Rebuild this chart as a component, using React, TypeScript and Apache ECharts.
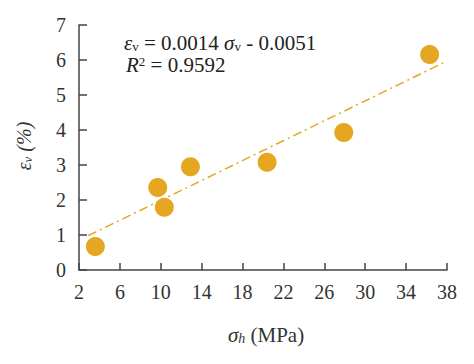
import React, { useEffect, useRef } from "react";
import * as echarts from "echarts";

const xTicks = [2, 6, 10, 14, 18, 22, 26, 30, 34, 38];
const sigmaH = [3.6, 9.7, 10.35, 12.9, 20.4, 27.9, 36.3];
const epsV = [0.67, 2.36, 1.79, 2.95, 3.08, 3.93, 6.16];
const trendX = [2.9, 38];
const trendY = [0.98, 5.97];

const FONT = "Times New Roman, Liberation Serif, serif";
const GOLD = "#E5A722";

export default function App() {
  const ref = useRef<HTMLDivElement>(null);
  useEffect(() => {
    const chart = echarts.init(ref.current!, null, { renderer: "svg" });
    const axisText = { color: "#333", fontFamily: FONT, fontSize: 20 };
    const rich = (fill: string, size: number, sub: number, italicN: boolean) => ({
      n: { fontFamily: FONT, fontSize: size, fill, fontStyle: italicN ? "italic" : "normal", lineHeight: 20, verticalAlign: "bottom" },
      i: { fontFamily: FONT, fontSize: size, fontStyle: "italic", fill, lineHeight: 20, verticalAlign: "bottom" },
      s: { fontFamily: FONT, fontSize: sub, fill, lineHeight: 20, verticalAlign: "bottom" },
      si: { fontFamily: FONT, fontSize: sub, fontStyle: "italic", fill, lineHeight: 20, verticalAlign: "bottom" },
      p: { fontFamily: FONT, fontSize: sub, fill, lineHeight: 20, verticalAlign: "top" },
    });
    chart.setOption({
      animation: false,
      backgroundColor: "#fff",
      textStyle: { fontFamily: FONT },
      grid: { left: 79, right: 27, top: 25, bottom: 94, containLabel: false },
      xAxis: {
        type: "value",
        min: xTicks[0],
        max: xTicks[xTicks.length - 1],
        interval: 4,
        axisLine: { show: true, lineStyle: { color: "#444", width: 1.5 } },
        axisTick: { show: true, inside: true, length: 7, lineStyle: { color: "#444", width: 1.5 } },
        axisLabel: { ...axisText, margin: 12 },
        splitLine: { show: false },
      },
      yAxis: {
        type: "value",
        min: 0,
        max: 7,
        interval: 1,
        axisLine: { show: true, lineStyle: { color: "#444", width: 1.5 } },
        axisTick: { show: true, inside: true, length: 8, lineStyle: { color: "#444", width: 1.5 } },
        axisLabel: { ...axisText, margin: 13 },
        splitLine: { show: false },
      },
      series: [
        {
          type: "line",
          data: trendX.map((x, i) => [x, trendY[i]]),
          symbol: "none",
          lineStyle: { color: GOLD, width: 1.5, type: [9, 4, 2, 4] },
          z: 1,
        },
        {
          type: "scatter",
          data: sigmaH.map((x, i) => [x, epsV[i]]),
          symbolSize: 19,
          itemStyle: { color: GOLD, opacity: 1 },
          z: 2,
        },
      ],
      graphic: [
        {
          type: "text",
          x: 124,
          y: 33,
          style: {
            text: "{i|ε}{s|v}{n| = 0.0014 }{i|σ}{s|v}{n| - 0.0051}",
            rich: rich("#222", 21, 13, false),
          },
        },
        {
          type: "text",
          x: 126,
          y: 55,
          style: {
            text: "{i|R}{p|2}{n| = 0.9592}",
            rich: rich("#222", 21, 13, false),
          },
        },
        {
          type: "text",
          x: 266,
          y: 335,
          style: {
            text: "{i|σ}{si|h}{n| (MPa)}",
            align: "center",
            verticalAlign: "middle",
            rich: rich("#333", 21, 14, false),
          },
        },
        {
          type: "text",
          x: 24,
          y: 146,
          rotation: Math.PI / 2,
          style: {
            text: "{i|ε}{si|v}{n| (%)}",
            align: "center",
            verticalAlign: "middle",
            rich: rich("#333", 20, 13, true),
          },
        },
      ],
    });
    return () => chart.dispose();
  }, []);
  return (
    <div
      ref={ref}
      style={{ position: "absolute", left: 0, top: 0, width: 474, height: 364 }}
    />
  );
}
